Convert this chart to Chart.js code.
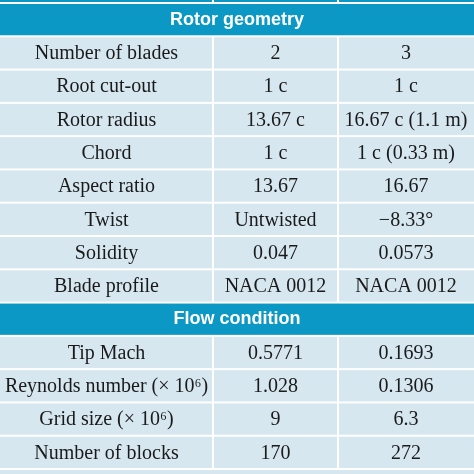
<!DOCTYPE html>
<html><head><meta charset="utf-8">
<script src="https://cdn.jsdelivr.net/npm/chart.js@4"></script>
<style>body{margin:0;background:#fff}canvas{display:block}</style>
</head><body>
<canvas id="tbl" width="474" height="474"></canvas>
<script>
// table rows: [label, 2-blade, 3-blade]; null values mark a section header
var row_labels = ["Rotor geometry", "Number of blades", "Root cut-out", "Rotor radius", "Chord",
  "Aspect ratio", "Twist", "Solidity", "Blade profile", "Flow condition", "Tip Mach",
  "Reynolds number (\u00d7 10\u2076)", "Grid size (\u00d7 10\u2076)", "Number of blocks"];
var col_a = [null, "2", "1 c", "13.67 c", "1 c", "13.67", "Untwisted", "0.047", "NACA 0012",
  null, "0.5771", "1.028", "9", "170"];
var col_b = [null, "3", "1 c", "16.67 c (1.1 m)", "1 c (0.33 m)", "16.67", "\u22128.33\u00b0", "0.0573", "NACA 0012",
  null, "0.1693", "0.1306", "6.3", "272"];
var col_edges = [0, 213, 338, 474];

var teal = "#0c98c4";
var cell = "#d6e7f0";

var tablePlugin = {
  id: "table",
  afterDraw: function(chart) {
    var ctx = chart.ctx, y = chart.scales.y, x = chart.scales.x;
    var W = chart.width, H = chart.height;
    ctx.save();
    ctx.fillStyle = "#fff";
    ctx.fillRect(0, 0, W, H);
    var half = (y.getPixelForValue(1) - y.getPixelForValue(0)) / 2;
    // top strip (cut-off column header row)
    ctx.fillStyle = teal;
    ctx.fillRect(0, 0, W, y.getPixelForValue(0) - half - 1);
    // bottom strip
    ctx.fillStyle = cell;
    ctx.fillRect(0, y.getPixelForValue(13) + half + 1, W, H);
    for (var i = 0; i < row_labels.length; i++) {
      var cy = y.getPixelForValue(i);
      var top = cy - half + 1, h = half * 2 - 2;
      if (col_a[i] === null) {
        ctx.fillStyle = teal;
        ctx.fillRect(0, top, W, h);
        ctx.fillStyle = "#fff";
        ctx.font = "bold 18px 'Liberation Sans'";
        ctx.textAlign = "center";
        ctx.textBaseline = "middle";
        ctx.fillText(row_labels[i], W / 2, cy);
        continue;
      }
      var vals = [row_labels[i], col_a[i], col_b[i]];
      for (var c = 0; c < 3; c++) {
        var x0 = x.getPixelForValue(col_edges[c]), x1 = x.getPixelForValue(col_edges[c + 1]);
        ctx.fillStyle = cell;
        ctx.fillRect(x0 + (c ? 1 : 0), top, x1 - x0 - (c ? 1 : 0) - (c < 2 ? 1 : 0), h);
        ctx.fillStyle = "#1a1a1a";
        ctx.font = "20px 'Liberation Serif'";
        ctx.textAlign = "center";
        ctx.textBaseline = "middle";
        ctx.fillText(vals[c], (x0 + x1) / 2, cy + 1);
      }
    }
    // column rules in the top strip
    ctx.fillStyle = "#fff";
    ctx.fillRect(x.getPixelForValue(213) - 1, 0, 2, y.getPixelForValue(0) - half);
    ctx.fillRect(x.getPixelForValue(338) - 1, 0, 2, y.getPixelForValue(0) - half);
    ctx.restore();
  }
};

new Chart(document.getElementById("tbl"), {
  type: "bar",
  data: { labels: row_labels, datasets: [{ data: row_labels.map(function() { return 0; }) }] },
  options: {
    responsive: false,
    animation: false,
    indexAxis: "y",
    layout: { padding: { top: 3, bottom: 5, left: 0, right: 0 } },
    plugins: { legend: { display: false }, tooltip: { enabled: false } },
    scales: {
      x: { type: "linear", min: 0, max: 474, display: false },
      y: { type: "category", display: false, offset: true }
    }
  },
  plugins: [tablePlugin]
});
</script>
</body></html>
